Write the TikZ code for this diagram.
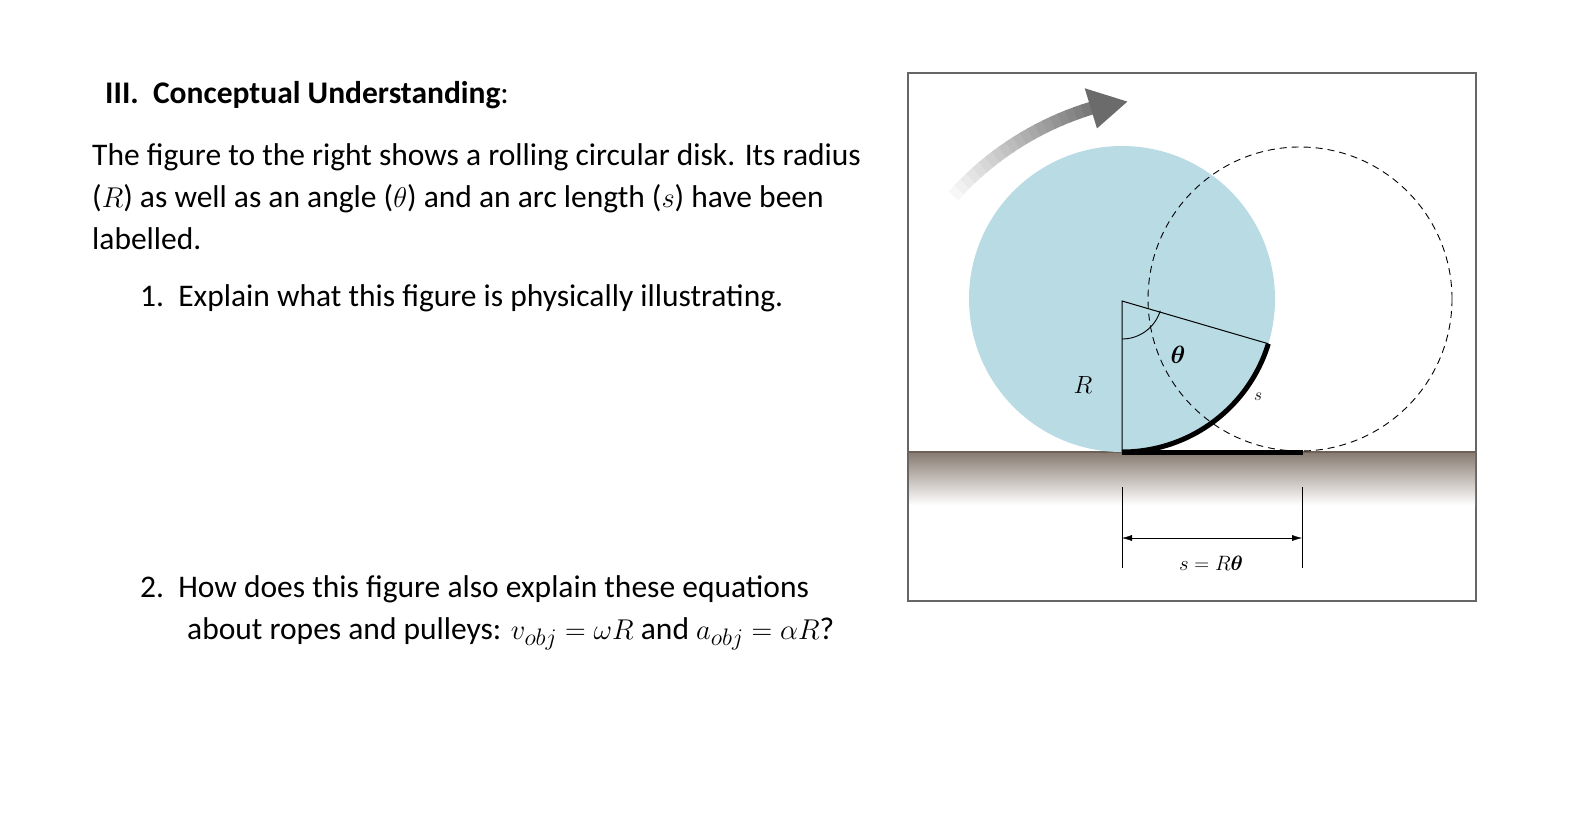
\documentclass[tikz,border=0pt]{standalone}
\usepackage{amsmath,bm,graphicx}
\usepackage{fontspec}
\setmainfont{Carlito}
\usetikzlibrary{arrows.meta,calc}
\definecolor{disk}{RGB}{184,219,228}
\definecolor{ground}{RGB}{135,122,112}
\newcommand{\mymath}[1]{\scalebox{1.15}{$#1$}}
\begin{document}
\begin{tikzpicture}[x=1pt,y=-1pt,
  txt/.style={anchor=base west,inner sep=0pt,font=\fontsize{31.5}{34}\selectfont},
  lab/.style={inner sep=0pt,font=\fontsize{23}{24}\selectfont}]
\useasboundingbox (0,0) rectangle (1586,838);
\node[txt] (t0) at (105,103) {\textbf{III.\ \ Conceptual Understanding}:};
\node[txt] (t1) at (92,165) {The figure to the right shows a rolling circular disk. Its radius};
\node[txt] (t2) at (92,207) {(\mymath{R}) as well as an angle (\mymath{\theta}) and an arc length (\mymath{s}) have been};
\node[txt] (t3) at (92,249) {labelled.};
\node[txt] (q1) at (140,306) {1.\ \ Explain what this figure is physically illustrating.};
\node[txt] (q2) at (140,597) {2.\ \ How does this figure also explain these equations};
\node[txt] (q2b) at (187,639) {about ropes and pulleys: \mymath{v_{obj}=\omega R} and \mymath{a_{obj}=\alpha R}?};
% figure
\draw[gray!80!black,line width=1.2] (908,73) rectangle (1476,601);
\shade[top color=ground,bottom color=white] (909,452) rectangle (1475,505);
\draw[ground!80!black,line width=1.5] (909,452) -- (1475,452);
\coordinate (c) at (1122,299);
\fill[disk] (c) circle (153);
\coordinate (c2) at (1300,299);
\draw[dash pattern=on 7pt off 5pt,line width=0.9] (c2) circle (152);
\coordinate (b) at (1122,452);
\coordinate (e) at ($(c)+(17:153)$);
\draw[line width=1] (b) -- ($(c)+(0,2)$) -- (e);
\draw[line width=0.9] (1122,339) arc[start angle=90,end angle=17,radius=40];
\draw[line width=5] (b) arc[start angle=90,end angle=17,radius=153];
\draw[line width=5] (b) -- (1303,452);
\node[lab] (R) at (1083,385) {$R$};
\node[lab] (th) at (1178,355) {$\bm{\theta}$};
\node[lab,font=\fontsize{16}{18}\selectfont] (s) at (1258,397) {$s$};
\coordinate (l1) at (1122,487); \coordinate (l1b) at (1122,568);
\coordinate (l2) at (1302,487); \coordinate (l2b) at (1302,568);
\draw (l1) -- (l1b); \draw (l2) -- (l2b);
\draw[{Latex[length=10,width=6]}-{Latex[length=10,width=6]}] (1122,538) -- (1302,538);
\node[lab,font=\fontsize{20}{22}\selectfont] (eq) at (1211,563) {$s=R\bm{\theta}$};
% rotation arrow
\foreach \i in {0,...,19}{
  \pgfmathsetmacro{\a}{-138+\i*1.55}
  \pgfmathsetmacro{\b}{-138+(\i+1)*1.55+0.2}
  \pgfmathsetmacro{\g}{3+\i*2.6}
  \draw[line width=13,color=black!\g!white] ($(1180,400)+(\a:305)$) arc[start angle=\a,end angle=\b,radius=305];
}
\fill[black!58] ($(1180,400)+(-107:284)$) -- ($(1180,400)+(-107:326)$) -- ($(1180,400)+(-100:303)$) -- cycle;
\end{tikzpicture}
\end{document}
